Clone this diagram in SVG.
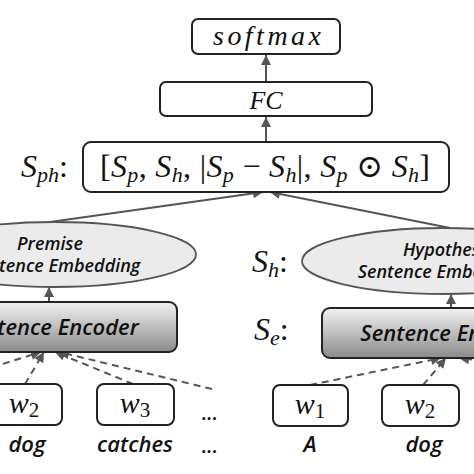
<svg xmlns="http://www.w3.org/2000/svg" width="474" height="474" viewBox="0 0 474 474">
<defs>
<linearGradient id="enc" x1="0" y1="0" x2="0" y2="1">
<stop offset="0" stop-color="#f2f2f2"/>
<stop offset="1" stop-color="#8a8a8a"/>
</linearGradient>
<marker id="ah" viewBox="0 0 10 10" refX="10" refY="5" markerWidth="12" markerHeight="10" markerUnits="userSpaceOnUse" orient="auto">
<path d="M0,0 L10,5 L0,10 z" fill="#555"/>
</marker>
<style>
.box{fill:#fff;stroke:#222;stroke-width:2}
.ell{fill:#ebebeb;stroke:#555;stroke-width:1.8}
.encb{fill:url(#enc);stroke:#222;stroke-width:2}
.m{fill:#111}
.i{font-style:italic}
.s{font-family:'Open Sans','DejaVu Sans',sans-serif;font-style:italic;font-weight:600;fill:#111}
.con{stroke:#555;stroke-width:2;fill:none;marker-end:url(#ah)}
.dash{stroke-dasharray:7 5}
</style>
</defs>

<g id="connectors">
<line class="con" x1="266" y1="82" x2="266" y2="55"/>
<line class="con" x1="266" y1="142" x2="266" y2="117"/>
<line class="con" x1="50" y1="222" x2="263" y2="192"/>
<line class="con" x1="450" y1="228" x2="270" y2="192"/>
<line class="con" x1="49" y1="302" x2="49" y2="287"/>
<line class="con" x1="451" y1="308" x2="451" y2="294"/>
<line class="con dash" x1="-20" y1="371" x2="41" y2="352"/>
<line class="con dash" x1="25" y1="384" x2="44" y2="352"/>
<line class="con dash" x1="133" y1="384" x2="55" y2="352"/>
<line class="con dash" x1="212" y1="389" x2="59" y2="352"/>
<line class="con dash" x1="310" y1="385" x2="441" y2="358"/>
<line class="con dash" x1="423" y1="385" x2="446" y2="358"/>
<line class="con dash" x1="484" y1="361" x2="459" y2="358"/>
</g>

<g id="softmax">
<rect class="box" x="192" y="19" width="148" height="35" rx="6"/>
<text class="m i" font-family="Liberation Serif, serif" x="213" y="45" font-size="28" textLength="108" lengthAdjust="spacing">softmax</text>
</g>

<g id="fc">
<rect class="box" x="160" y="82" width="212" height="34" rx="6"/>
<text class="m i" font-family="Liberation Serif, serif" x="266" y="109" font-size="26" text-anchor="middle">FC</text>
</g>

<g id="sph">
<text class="m" font-family="Liberation Serif, serif" x="21" y="177" font-size="32"><tspan class="i">S</tspan><tspan class="i" font-size="22" dy="5">ph</tspan><tspan dy="-5">:</tspan></text>
<rect class="box" x="83" y="142" width="366" height="50" rx="8"/>
<text class="m" font-family="Liberation Serif, DejaVu Serif, serif" x="100" y="177" font-size="32" textLength="330" lengthAdjust="spacing">[<tspan class="i">S</tspan><tspan class="i" font-size="22" dy="5">p</tspan><tspan dy="-5">, </tspan><tspan class="i">S</tspan><tspan class="i" font-size="22" dy="5">h</tspan><tspan dy="-5">, |</tspan><tspan class="i">S</tspan><tspan class="i" font-size="22" dy="5">p</tspan><tspan dy="-5"> − </tspan><tspan class="i">S</tspan><tspan class="i" font-size="22" dy="5">h</tspan><tspan dy="-5">|, </tspan><tspan class="i">S</tspan><tspan class="i" font-size="22" dy="5">p</tspan><tspan dy="-5"> ⊙ </tspan><tspan class="i">S</tspan><tspan class="i" font-size="22" dy="5">h</tspan><tspan dy="-5">]</tspan></text>
</g>

<g id="premise-embedding">
<ellipse class="ell" cx="55" cy="254.5" rx="141" ry="32.5"/>
<text class="s" x="50" y="250" font-size="18" text-anchor="middle">Premise</text>
<text class="s" x="55" y="272" font-size="18" text-anchor="middle">Sentence Embedding</text>
</g>

<g id="hypothesis-embedding">
<text class="m" font-family="Liberation Serif, serif" x="252" y="272" font-size="32"><tspan class="i">S</tspan><tspan class="i" font-size="22" dy="5">h</tspan><tspan dy="-5">:</tspan></text>
<ellipse class="ell" cx="443" cy="261" rx="141" ry="33"/>
<text class="s" x="448" y="256" font-size="18" text-anchor="middle">Hypothesis</text>
<text class="s" x="443" y="278" font-size="18" text-anchor="middle">Sentence Embedding</text>
</g>

<g id="premise-encoder">
<rect class="encb" x="-77" y="302" width="254" height="50" rx="8"/>
<text class="s" x="50" y="335" font-size="22" text-anchor="middle">Sentence Encoder</text>
</g>

<g id="hypothesis-encoder">
<text class="m" font-family="Liberation Serif, serif" x="254" y="340" font-size="32"><tspan class="i">S</tspan><tspan class="i" font-size="22" dy="5">e</tspan><tspan dy="-5">:</tspan></text>
<rect class="encb" x="322" y="308" width="254" height="50" rx="8"/>
<text class="s" x="449" y="341" font-size="22" text-anchor="middle">Sentence Encoder</text>
</g>

<g id="p-w2">
<rect class="box" x="-14" y="384" width="76" height="41" rx="7"/>
<text class="m" font-family="Liberation Serif, serif" x="24" y="413" font-size="30" text-anchor="middle"><tspan class="i">w</tspan><tspan font-size="21" dy="4">2</tspan></text>
<text class="s" x="27" y="452" font-size="22" text-anchor="middle">dog</text>
</g>

<g id="p-w3">
<rect class="box" x="97" y="384" width="77" height="41" rx="7"/>
<text class="m" font-family="Liberation Serif, serif" x="135" y="413" font-size="30" text-anchor="middle"><tspan class="i">w</tspan><tspan font-size="21" dy="4">3</tspan></text>
<text class="s" x="135" y="452" font-size="22" text-anchor="middle">catches</text>
</g>

<g id="p-dots">
<text class="s" x="210" y="420" font-size="20" text-anchor="middle">...</text>
<text class="s" x="210" y="453" font-size="20" text-anchor="middle">...</text>
</g>

<g id="h-w1">
<rect class="box" x="273" y="385" width="75" height="41" rx="7"/>
<text class="m" font-family="Liberation Serif, serif" x="310" y="414" font-size="30" text-anchor="middle"><tspan class="i">w</tspan><tspan font-size="21" dy="4">1</tspan></text>
<text class="s" x="310" y="452" font-size="22" text-anchor="middle">A</text>
</g>

<g id="h-w2">
<rect class="box" x="382" y="385" width="77" height="41" rx="7"/>
<text class="m" font-family="Liberation Serif, serif" x="420" y="414" font-size="30" text-anchor="middle"><tspan class="i">w</tspan><tspan font-size="21" dy="4">2</tspan></text>
<text class="s" x="424" y="452" font-size="22" text-anchor="middle">dog</text>
</g>
</svg>
